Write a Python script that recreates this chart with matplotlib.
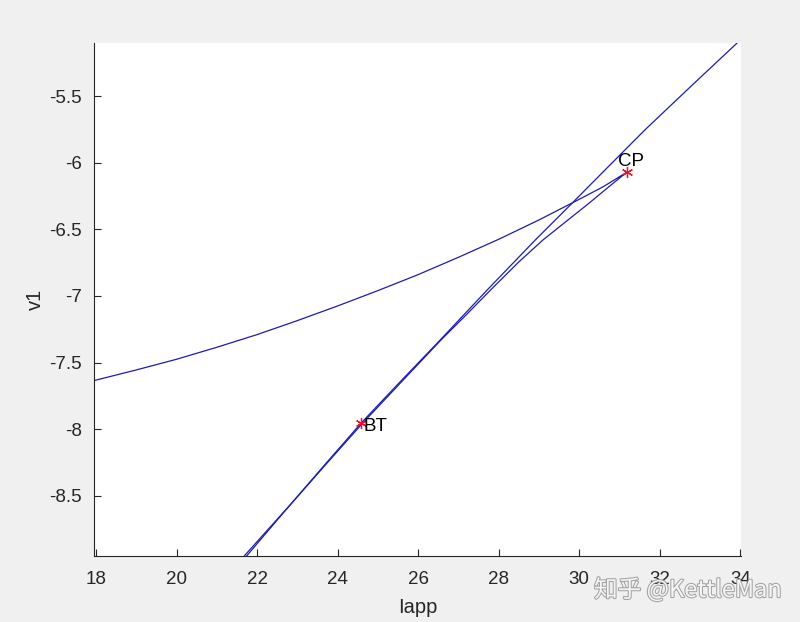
import matplotlib
matplotlib.use("Agg")
import matplotlib.pyplot as plt
import matplotlib.patheffects as pe

# fold curve: from the left edge up to CP, then back down through BT
fold_iapp = [17.95, 19.0, 20.0, 21.0, 22.0, 23.0, 24.0, 25.0, 26.0, 27.0,
             28.0, 29.0, 30.0, 30.6, 31.18,
             30.7, 30.2, 29.7, 29.1, 28.5, 27.8, 27.2, 26.6, 25.6, 24.62,
             23.66, 22.7, 21.74]
fold_v1 = [-7.635, -7.555, -7.475, -7.385, -7.29, -7.185, -7.075, -6.96,
           -6.84, -6.71, -6.575, -6.43, -6.275, -6.18, -6.072,
           -6.19, -6.315, -6.435, -6.58, -6.745, -6.955, -7.14, -7.32,
           -7.64, -7.955, -8.28, -8.61, -8.951]

# second branch: from the bottom through BT to the upper right
hopf_iapp = [21.68, 22.82, 23.7, 24.58, 25.55, 26.55, 27.7, 28.91, 29.86,
             30.75, 31.64, 32.8, 33.93]
hopf_v1 = [-8.951, -8.568, -8.26, -7.955, -7.645, -7.33, -6.96, -6.58,
           -6.293, -6.022, -5.752, -5.42, -5.10]

# labelled points
pt_names = ["CP", "BT"]
pt_iapp = [31.18, 24.58]
pt_v1 = [-6.072, -7.955]

xticks = [18, 20, 22, 24, 26, 28, 30, 32, 34]
yticks = [-8.5, -8, -7.5, -7, -6.5, -6, -5.5]
ytick_labels = ["-8.5", "-8", "-7.5", "-7", "-6.5", "-6", "-5.5"]

plt.rcParams["font.family"] = ["Liberation Sans", "DejaVu Sans"]

fig = plt.figure(figsize=(8, 6.22), dpi=100, facecolor="#f0f0f0")
ax = fig.add_axes([0.1175, 0.1061, 0.8088, 0.8248])

line_col = "#1c1cb0"
ax.plot(fold_iapp, fold_v1, color=line_col, lw=0.9)
ax.plot(hopf_iapp, hopf_v1, color=line_col, lw=0.9)

ax.plot(pt_iapp, pt_v1, linestyle="none", marker=(6, 2, 0),
        markersize=8, markeredgewidth=0.9, color="#e8102c")
offsets = {"CP": (-6, 8), "BT": (2, -2)}
for name, x, y in zip(pt_names, pt_iapp, pt_v1):
    ax.annotate(name, (x, y), xytext=offsets[name], textcoords="offset points",
                ha="left", va="center", fontsize=13.5, color="black")

ax.set_xlim(17.95, 34.02)
ax.set_ylim(-8.951, -5.102)
ax.set_xticks(xticks)
ax.set_yticks(yticks)
ax.set_yticklabels(ytick_labels)

for side in ["top", "right"]:
    ax.spines[side].set_visible(False)
for side in ["left", "bottom"]:
    ax.spines[side].set_color("#262626")
    ax.spines[side].set_linewidth(0.8)
ax.tick_params(direction="in", length=5, width=0.8, colors="#262626",
               labelsize=13.5)
ax.tick_params(axis="x", pad=11)
ax.tick_params(axis="y", pad=9)

ax.set_xlabel("Iapp", fontsize=14.5, color="#262626", labelpad=7)
ax.set_ylabel("v1", fontsize=14.5, color="#262626", labelpad=3)

# watermark
fig.text(0.977, 0.052, "知乎 @KettleMan", ha="right", va="center",
         fontsize=17, color="white", alpha=0.9,
         family=["Noto Sans CJK SC", "DejaVu Sans"],
         path_effects=[pe.withStroke(linewidth=1.5, foreground="#9a9a9a")])

fig.savefig("out.png", dpi=100, facecolor=fig.get_facecolor())
